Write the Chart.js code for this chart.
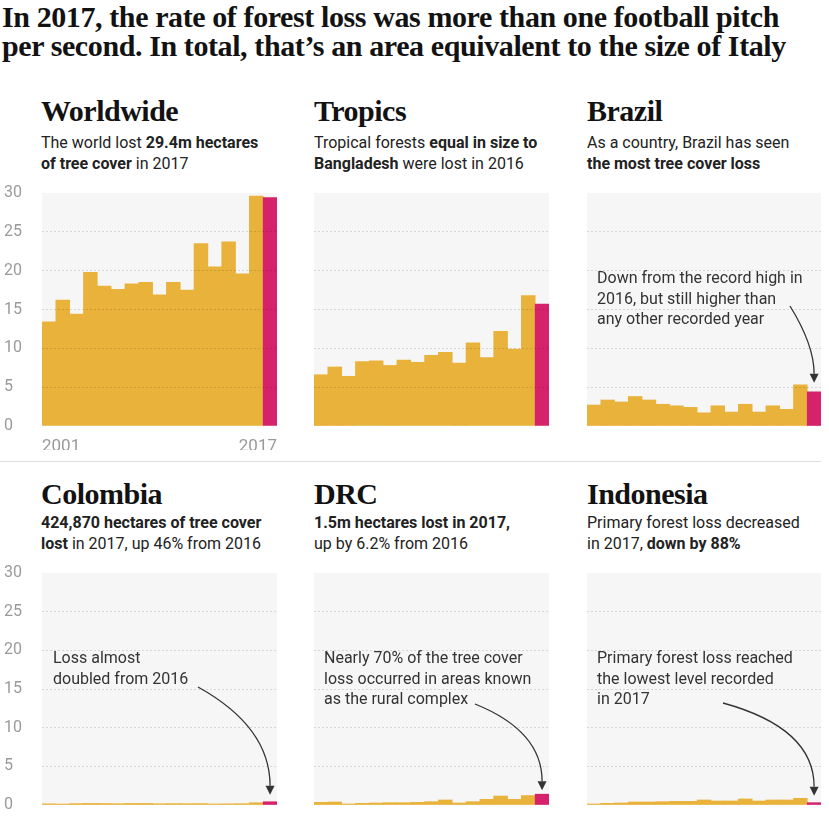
<!DOCTYPE html>
<html><head><meta charset="utf-8">
<script src="https://cdn.jsdelivr.net/npm/chart.js@4.4.1/dist/chart.umd.min.js"></script>
<style>
html,body{margin:0;padding:0;background:#fff;}
body{width:829px;height:816px;position:relative;overflow:hidden;font-family:Roboto,sans-serif;color:#333;}
.t{position:absolute;white-space:nowrap;}
#title{left:2px;top:2px;font:bold 30px/29px 'Liberation Serif',serif;color:#121212;letter-spacing:-0.4px}
.h{font:bold 30px/30px 'Liberation Serif',serif;color:#121212;letter-spacing:-0.5px}
.s{font:16px/21px Roboto,sans-serif;color:#222}
.s b{font-weight:700}
.a{font:16px/20.7px Roboto,sans-serif;color:#333}
canvas{position:absolute}
.rule{position:absolute;left:0;top:461px;width:821px;height:1px;background:#dcdcdc}
</style></head>
<body>
<div id="title" class="t">In 2017, the rate of forest loss was more than one football pitch<br>per second. In total, that’s an area equivalent to the size of Italy</div>

<div class="t h" style="left:41px;top:96px">Worldwide</div>
<div class="t s" style="left:41px;top:132px">The world lost <b>29.4m hectares</b><br><b>of tree cover</b> in 2017</div>
<div class="t h" style="left:314px;top:96px">Tropics</div>
<div class="t s" style="left:314px;top:132px">Tropical forests <b>equal in size to</b><br><b>Bangladesh</b> were lost in 2016</div>
<div class="t h" style="left:587px;top:96px">Brazil</div>
<div class="t s" style="left:587px;top:132px">As a country, Brazil has seen<br><b>the most tree cover loss</b></div>

<div class="rule"></div>

<div class="t h" style="left:41px;top:479px">Colombia</div>
<div class="t s" style="left:41px;top:512px"><b>424,870 hectares of tree cover</b><br><b>lost</b> in 2017, up 46% from 2016</div>
<div class="t h" style="left:314px;top:479px">DRC</div>
<div class="t s" style="left:314px;top:512px"><b>1.5m hectares lost in 2017,</b><br>up by 6.2% from 2016</div>
<div class="t h" style="left:587px;top:479px">Indonesia</div>
<div class="t s" style="left:587px;top:512px">Primary forest loss decreased<br>in 2017, <b>down by 88%</b></div>

<canvas id="c1" width="280" height="270" style="left:0;top:180px"></canvas>
<canvas id="c2" width="235" height="233" style="left:314px;top:193px"></canvas>
<canvas id="c3" width="234" height="233" style="left:587px;top:193px"></canvas>
<canvas id="c4" width="280" height="256" style="left:0;top:560px"></canvas>
<canvas id="c5" width="235" height="232" style="left:314px;top:573px"></canvas>
<canvas id="c6" width="234" height="232" style="left:587px;top:573px"></canvas>

<div class="t a" style="left:597px;top:268px">Down from the record high in<br>2016, but still higher than<br>any other recorded year</div>
<div class="t a" style="left:53px;top:648px">Loss almost<br>doubled from 2016</div>
<div class="t a" style="left:324px;top:648px">Nearly 70% of the tree cover<br>loss occurred in areas known<br>as the rural complex</div>
<div class="t a" style="left:597px;top:648px">Primary forest loss reached<br>the lowest level recorded<br>in 2017</div>

<script>
// ---- data (million hectares of tree cover loss) ----
const years = ['2001','2002','2003','2004','2005','2006','2007','2008','2009','2010','2011','2012','2013','2014','2015','2016','2017'];
const worldwide = [13.4,16.2,14.4,19.8,18.0,17.6,18.3,18.5,16.9,18.5,17.5,23.5,20.5,23.7,19.6,29.6,29.4];
const tropics   = [6.6,7.6,6.4,8.3,8.4,7.8,8.5,8.2,9.1,9.5,8.1,10.7,8.8,12.2,9.9,16.8,15.7];
const brazil    = [2.7,3.35,3.1,3.8,3.35,2.8,2.6,2.4,1.7,2.6,1.8,2.8,1.8,2.6,2.15,5.3,4.4];
const colombia  = [0.15,0.12,0.18,0.2,0.19,0.17,0.2,0.2,0.16,0.18,0.17,0.18,0.13,0.15,0.17,0.29,0.42];
const drc       = [0.34,0.39,0.13,0.22,0.26,0.3,0.3,0.34,0.43,0.65,0.26,0.43,0.73,1.16,0.73,1.22,1.4];
const indonesia = [0.13,0.22,0.26,0.39,0.39,0.43,0.47,0.47,0.65,0.52,0.52,0.78,0.52,0.65,0.65,0.86,0.3];
const yTicks = [0,5,10,15,20,25,30];
const xTickLabels = ['2001','2017'];

const YELLOW = '#e9b23a';
const PINK = '#d6226b';

const plotBg = {
  id: 'plotBg',
  beforeDraw(chart) {
    const {ctx, chartArea: a} = chart;
    ctx.save(); ctx.fillStyle = '#f6f6f6';
    ctx.fillRect(a.left, a.top, a.right - a.left, a.bottom - a.top);
    ctx.restore();
  }
};

const calloutArrow = {
  id: 'calloutArrow',
  afterDraw(chart, args, o) {
    if (!o || !o.start) return;
    const {ctx, chartArea: a} = chart;
    const meta = chart.getDatasetMeta(0);
    const bar = meta.data[meta.data.length - 1];
    const tx = bar.x, ty = bar.y - o.gap;
    const sx = a.left + o.start[0], sy = a.top + o.start[1];
    const cx = tx, cy = a.top + o.ctrlY;
    let dx = tx - cx, dy = ty - cy; const len = Math.hypot(dx, dy); dx /= len; dy /= len;
    const hl = 9, hw = 4.5;
    const bx = tx - dx * hl, by = ty - dy * hl;
    ctx.save();
    ctx.strokeStyle = '#333'; ctx.fillStyle = '#333'; ctx.lineWidth = 1.3;
    ctx.beginPath(); ctx.moveTo(sx, sy);
    ctx.quadraticCurveTo(cx, cy, bx, by); ctx.stroke();
    ctx.beginPath(); ctx.moveTo(tx, ty);
    ctx.lineTo(bx - dy * hw, by + dx * hw);
    ctx.lineTo(bx + dy * hw, by - dx * hw);
    ctx.closePath(); ctx.fill();
    ctx.restore();
  }
};

function makeChart(id, values, cfg) {
  const colors = values.map((v, i) => i === values.length - 1 ? PINK : YELLOW);
  return new Chart(document.getElementById(id), {
    type: 'bar',
    data: { labels: years, datasets: [{ data: values, backgroundColor: colors, borderWidth: 0,
      barPercentage: 1, categoryPercentage: 1 }] },
    options: {
      responsive: false, animation: false, devicePixelRatio: 1,
      layout: { padding: cfg.padding || 0 },
      plugins: { legend: { display: false }, tooltip: { enabled: false },
        calloutArrow: cfg.arrow || {} },
      scales: {
        x: { display: false },
        x2: { type: 'linear', position: 'bottom', display: !!cfg.showX, min: 0, max: 1, offset: false,
          grid: { display: false, offset: false }, border: { display: false },
          ticks: { stepSize: 1, align: 'inner', padding: 3, color: '#999',
            font: { family: 'Roboto', size: 17 },
            callback: (v) => v === 0 ? xTickLabels[0] : (v === 1 ? xTickLabels[1] : '') },
          afterFit: (s) => { s.height = cfg.showX ? 24 : 0; } },
        y: { min: 0, max: 30,
          afterBuildTicks: (s) => { s.ticks = yTicks.map(v => ({ value: v })); },
          grid: { z: 1, drawTicks: false,
            color: (c) => (c.tick && (c.tick.value === 0 || c.tick.value === 30)) ? 'rgba(0,0,0,0)' : 'rgba(0,0,0,0.13)' },
          border: { display: false, dash: [2, 2] },
          ticks: { display: !!cfg.showY, crossAlign: 'far', padding: 0, color: '#9a9a9a',
            font: { family: 'Roboto', size: 16 } },
          afterFit: (s) => { s.width = cfg.showY ? 38 : 0; } }
      }
    },
    plugins: [plotBg, calloutArrow]
  });
}

makeChart('c1', worldwide, { showY: true, showX: true, padding: { top: 13, left: 4, right: 3, bottom: 0 } });
makeChart('c2', tropics, {});
makeChart('c3', brazil, { arrow: { start: [203, 113], ctrlY: 152, gap: 9 } });
makeChart('c4', colombia, { showY: true, padding: { top: 13, left: 4, right: 3, bottom: 11 },
  arrow: { start: [156, 114], ctrlY: 154, gap: 7 } });
makeChart('c5', drc, { arrow: { start: [161, 131], ctrlY: 158, gap: 4 } });
makeChart('c6', indonesia, { arrow: { start: [136, 130], ctrlY: 155, gap: 7 } });
</script>
</body></html>
